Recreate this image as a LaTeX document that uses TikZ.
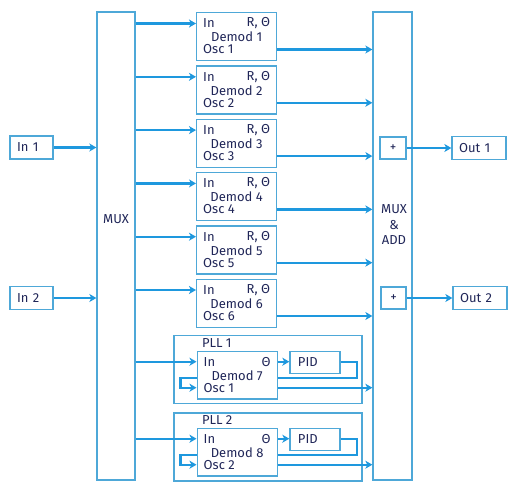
\documentclass[tikz,border=0pt]{standalone}
\usepackage{fontspec}
\setmainfont{Fira Sans}
\usetikzlibrary{arrows.meta,positioning}
\definecolor{linkblue}{RGB}{30,152,222}
\definecolor{edgeblue}{RGB}{78,168,216}
\definecolor{inkblue}{RGB}{32,38,88}
\tikzset{
  blk/.style={draw=edgeblue,line width=1.3pt,inner sep=0pt,text=inkblue},
  txt/.style={inner sep=0pt,text=inkblue},
  iobox/.style={blk,minimum height=23pt,inner xsep=7pt,align=left},
  conn/.style={draw=linkblue,line width=2.2pt,-{Stealth[length=7pt,width=8pt,inset=2pt]}},
  link/.style={draw=linkblue,line width=2.2pt},
}
\begin{document}
\begin{tikzpicture}[x=1pt,y=-1pt,font=\fontsize{13}{15.5}\selectfont]
  \useasboundingbox (0,0) rectangle (518,495);

  \node[blk,minimum width=38pt,minimum height=468pt] (mux) at (116,246) {};
  \node[txt] (muxlbl) at (116,219) {MUX};
  \node[blk,minimum width=39pt,minimum height=468pt] (add) at (392.5,246) {};
  \node[txt,align=center] (addlbl) at (394,225) {MUX\\\&\\ADD};

  \node[iobox,text width=29pt] (in1) at (31.5,147.5) {In 1};
  \node[iobox,text width=29pt] (in2) at (31.5,298) {In 2};
  \node[iobox,text width=40pt] (out1) at (479,148) {Out 1};
  \node[iobox,text width=40pt] (out2) at (480,298) {Out 2};
  \node[blk,minimum width=26pt,minimum height=22pt] (plus1) at (393,148) {+};
  \node[blk,minimum width=25pt,minimum height=22pt] (plus2) at (393.5,298) {+};

  \draw[conn] (in1) -- (in1 -| mux.west);
  \draw[conn] (in2) -- (in2 -| mux.west);
  \draw[conn] (plus1) -- (out1);
  \draw[conn] (plus2) -- (out2);

  \foreach \k in {1,...,6} {
    \pgfmathsetmacro\dtop{12+53.3*(\k-1)}
    \node[blk,minimum width=80pt,minimum height=48pt,anchor=north west] (d\k) at (196,\dtop) {};
    \node[txt,anchor=west] (d\k-in) at ([xshift=7pt,yshift=-11.5pt]d\k.north west) {In};
    \node[txt,anchor=east] (d\k-th) at ([xshift=-7pt,yshift=-11.5pt]d\k.north east) {R, Θ};
    \node[txt] (d\k-name) at ([yshift=-25pt]d\k.north) {Demod \k};
    \node[txt,anchor=west] (d\k-osc) at ([xshift=7pt,yshift=-37.5pt]d\k.north west) {Osc \k};
    \draw[conn] (d\k-in -| mux.east) -- (d\k-in -| d\k.west);
    \draw[conn] (d\k-osc -| d\k.east) -- (d\k-osc -| add.west);
  }

  \foreach \p/\ptop/\dtop/\k in {1/335/350.7/7, 2/412.3/427.7/8} {
    \node[blk,minimum width=188pt,minimum height=68pt,anchor=north west] (pll\p) at (173.3,\ptop) {};
    \node[txt,anchor=west] (pll\p-lbl) at ([xshift=28.5pt,yshift=-8pt]pll\p.north west) {PLL \p};
    \node[blk,minimum width=80pt,minimum height=47.5pt,anchor=north west] (d\k) at (196.5,\dtop) {};
    \node[txt,anchor=west] (d\k-in) at ([xshift=7pt,yshift=-11pt]d\k.north west) {In};
    \node[txt,anchor=east] (d\k-th) at ([xshift=-7pt,yshift=-11pt]d\k.north east) {Θ};
    \node[txt] (d\k-name) at ([yshift=-24.5pt]d\k.north) {Demod \k};
    \node[txt,anchor=west] (d\k-osc) at ([xshift=7pt,yshift=-37pt]d\k.north west) {Osc \p};
    \node[blk,minimum width=50pt,minimum height=22pt,anchor=north west,inner xsep=8pt,text width=34pt,align=left] (pid\p) at (289.3,\dtop) {PID};
    \draw[conn] (d\k-in -| mux.east) -- (d\k-in -| d\k.west);
    \draw[conn] (d\k-in -| d\k.east) -- (d\k-in -| pid\p.west);
    \draw[link] (pid\p.east) -- ++(16,0) |- ([yshift=-2.5pt]d\k.east);
    \draw[conn] ([yshift=-2.5pt]d\k.west) -- ++(-16,0) |- (d\k-osc -| d\k.west);
    \draw[conn] (d\k-osc -| d\k.east) -- (d\k-osc -| add.west);
  }
\end{tikzpicture}
\end{document}
